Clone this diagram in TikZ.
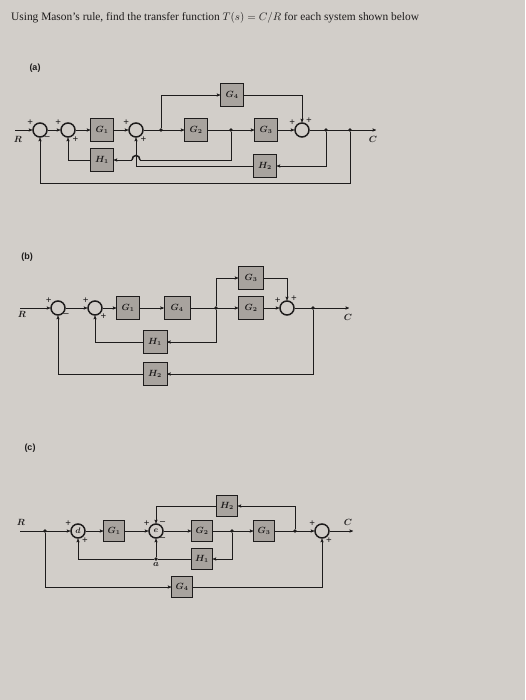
\documentclass[tikz,border=0pt]{standalone}
\usepackage{amsmath}
\usepackage{fontspec}
\setmainfont{Liberation Serif}
\newfontfamily\partfont{Liberation Sans}
\usetikzlibrary{arrows,positioning}
\definecolor{paper}{RGB}{210,206,201}
\definecolor{ink}{RGB}{30,28,28}
\definecolor{boxgray}{RGB}{168,163,158}
\tikzset{>=stealth',line width=1.1pt}
\tikzset{block/.style={draw,fill=boxgray,minimum width=23pt,minimum height=23pt,inner sep=0pt,font=\small},
    smallblock/.style={block,minimum width=21pt,minimum height=21pt},
    sum/.style={draw,circle,line width=1.5pt,minimum size=14pt,inner sep=0pt,font=\footnotesize},
    sgn/.style={inner sep=0pt,text=ink,font=\normalsize\bfseries},
    dot/.style={circle,fill=ink,inner sep=0pt,minimum size=3.6pt},
    sig/.style={inner sep=1pt,text=ink,font=\small},
    part/.style={font=\partfont\bfseries\small}}

\begin{document}
\begin{tikzpicture}[x=1pt,y=-1pt,color=ink]
        \fill[paper] (0,0) rectangle (525,700);
        \useasboundingbox (0,0) rectangle (525,700);
        \node[anchor=west,inner sep=0pt,font=\fontsize{11.4}{13}\selectfont] (title) at (11,18)
            {Using Mason's rule, find the transfer function $T(s) = C/R$ for each system shown below};

        % (a)
        \node[part] (laba) at (35,68) {(a)};
        \coordinate (ra) at (15,130);
        \node[sum,label={[sgn]150:+},label={[sgn]-55:–}] (sa1) at (40,130) {};
        \node[sum,label={[sgn]150:+},label={[sgn]-55:+}] (sa2) at (68,130) {};
        \node[block] (ga1) at (102,130) {$\boldsymbol{G_1}$};
        \node[sum,label={[sgn]150:+},label={[sgn]-55:+}] (sa3) at (136,130) {};
        \node[dot] (a1) at (161,130) {};
        \node[block] (ga2) at (196,130) {$\boldsymbol{G_2}$};
        \node[block] (ga4) at (232,95) {$\boldsymbol{G_4}$};
        \node[dot] (a2) at (231,130) {};
        \node[block] (ga3) at (266,130) {$\boldsymbol{G_3}$};
        \node[sum,label={[sgn]150:+},label={[sgn]60:+}] (sa4) at (302,130) {};
        \node[dot] (a3) at (326,130) {};
        \node[dot] (a4) at (350,130) {};
        \coordinate (ca) at (376,130);
        \node[block] (ha1) at (102,160) {$\boldsymbol{H_1}$};
        \node[block] (ha2) at (265,166) {$\boldsymbol{H_2}$};
        \coordinate (hopr) at (140,160);
        \coordinate (hopl) at (132,160);
        \coordinate (fa) at (350,183);
        \node[sig] (Ra) at (18,139) {$\boldsymbol{R}$};
        \node[sig] (Ca) at (373,139) {$\boldsymbol{C}$};
        \draw[->] (ra) -- (sa1);
        \draw[->] (sa1) -- (sa2);
        \draw[->] (sa2) -- (ga1);
        \draw[->] (ga1) -- (sa3);
        \draw[->] (sa3) -- (ga2);
        \draw[->] (a1) |- (ga4);
        \draw[->] (ga2) -- (ga3);
        \draw[->] (ga3) -- (sa4);
        \draw[->] (ga4) -| (sa4);
        \draw[->] (sa4) -- (ca);
        \draw[->] (a3) |- (ha2);
        \draw[->] (ha2) -| (sa3);
        % line hop over the H2 return
        \draw (a2) |- (hopr);
        \draw[line width=1.5pt] (hopr) .. controls (140,154) and (132,154) .. (hopl);
        \draw[->] (hopl) -- (ha1);
        \draw[->] (ha1) -| (sa2);
        \draw[->] (a4) -- (fa) -| (sa1);

        % (b)
        \node[part] (labb) at (27,257) {(b)};
        \coordinate (rb) at (20,308);
        \node[sum,label={[sgn]145:+},label={[sgn]-45:–}] (sb1) at (58,308) {};
        \node[sum,label={[sgn]145:+},label={[sgn]-45:+}] (sb2) at (95,308) {};
        \node[block] (gb1) at (128,308) {$\boldsymbol{G_1}$};
        \node[block,minimum width=26pt] (gb4) at (177,308) {$\boldsymbol{G_4}$};
        \node[dot] (b1) at (216,308) {};
        \node[block,minimum width=25pt] (gb3) at (251,278) {$\boldsymbol{G_3}$};
        \node[block,minimum width=25pt] (gb2) at (251,308) {$\boldsymbol{G_2}$};
        \node[sum,label={[sgn]145:+},label={[sgn]60:+}] (sb3) at (287,308) {};
        \node[dot] (b2) at (313,308) {};
        \coordinate (cb) at (349,308);
        \node[block,minimum width=24pt] (hb1) at (155,342) {$\boldsymbol{H_1}$};
        \node[block,minimum width=24pt] (hb2) at (155,374) {$\boldsymbol{H_2}$};
        \node[sig] (Rb) at (22,314) {$\boldsymbol{R}$};
        \node[sig] (Cb) at (348,317) {$\boldsymbol{C}$};
        \draw[->] (rb) -- (sb1);
        \draw[->] (sb1) -- (sb2);
        \draw[->] (sb2) -- (gb1);
        \draw[->] (gb1) -- (gb4);
        \draw[->] (gb4) -- (gb2);
        \draw[->] (b1) |- (gb3);
        \draw[->] (gb3) -| (sb3);
        \draw[->] (gb2) -- (sb3);
        \draw[->] (sb3) -- (cb);
        \draw[->] (b1) |- (hb1);
        \draw[->] (hb1) -| (sb2);
        \draw[->] (b2) |- (hb2);
        \draw[->] (hb2) -| (sb1);

        % (c)
        \node[part] (labc) at (30,448) {(c)};
        \coordinate (rc) at (20,531);
        \node[dot] (c1) at (45,531) {};
        \node[sum,label={[sgn]150:+},label={[sgn]-60:+}] (sd) at (78,531) {$\boldsymbol{d}$};
        \node[smallblock] (gc1) at (114,531) {$\boldsymbol{G_1}$};
        \node[sum,label={[sgn]145:+},label={[sgn]60:–},label={[sgn]-60:–}] (se) at (156,531) {$\boldsymbol{e}$};
        \node[smallblock] (gc2) at (202,531) {$\boldsymbol{G_2}$};
        \node[dot] (c2) at (232,531) {};
        \node[smallblock] (gc3) at (264,531) {$\boldsymbol{G_3}$};
        \node[dot] (c3) at (295,531) {};
        \node[sum,label={[sgn]150:+},label={[sgn]-60:+}] (sf) at (322,531) {};
        \coordinate (cc) at (353,531);
        \node[smallblock] (hc2) at (227,506) {$\boldsymbol{H_2}$};
        \node[smallblock] (hc1) at (202,559) {$\boldsymbol{H_1}$};
        \node[dot,label={[sig]below:$\boldsymbol{a}$}] (ac) at (156,559) {};
        \node[smallblock] (gc4) at (182,587) {$\boldsymbol{G_4}$};
        \node[sig] (Rc) at (21,522) {$\boldsymbol{R}$};
        \node[sig] (Cc) at (348,522) {$\boldsymbol{C}$};
        \draw[->] (rc) -- (sd);
        \draw[->] (sd) -- (gc1);
        \draw[->] (gc1) -- (se);
        \draw[->] (se) -- (gc2);
        \draw[->] (gc2) -- (gc3);
        \draw[->] (gc3) -- (sf);
        \draw[->] (sf) -- (cc);
        \draw[->] (c2) |- (hc1);
        \draw (hc1) -- (ac);
        \draw[->] (ac) -- (se);
        \draw[->] (ac) -| (sd);
        \draw[->] (c3) |- (hc2);
        \draw[->] (hc2) -| (se);
        \draw[->] (c1) |- (gc4);
        \draw[->] (gc4) -| (sf);
\end{tikzpicture}
\end{document}
